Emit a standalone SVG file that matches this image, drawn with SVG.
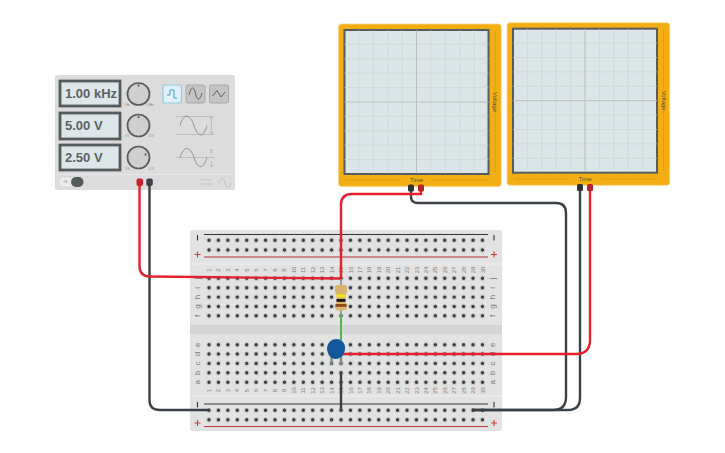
<svg xmlns="http://www.w3.org/2000/svg" width="725" height="453" viewBox="0 0 725 453">
<style>
text{font-family:"Liberation Sans",Arial,sans-serif}
.lcd{fill:#dde7ea;stroke:#555a5c;stroke-width:2.8}
.lcdt{font-size:13px;font-weight:bold;fill:#5c6163}
.knob{fill:#cfcfcf;stroke:#555a5c;stroke-width:1.7}
.btn{fill:#c4c4c4;stroke:#a8a8a8;stroke-width:1}
.wave{fill:none;stroke:#888;stroke-width:.9}
.faint{stroke:#b8b8b8;stroke-width:.8;fill:none}
.tiny{font-size:2.6px;fill:#777}
.holes{stroke:#3a3f43;stroke-width:3.4;stroke-linecap:round;stroke-dasharray:0 9.43;fill:none}
.halo{stroke:#cdcdcd;stroke-width:5.6;stroke-linecap:round;stroke-dasharray:0 9.43;fill:none}
.num{font-size:6px;fill:#7a7a7a;text-anchor:middle}
.let{font-size:8px;fill:#777;text-anchor:middle}
.wr{fill:none;stroke:#e3202c;stroke-width:2.4}
.wk{fill:none;stroke:#3a4045;stroke-width:2.4}
.body{fill:#f3ae14;stroke:#f8d585;stroke-width:.8}
.scr{fill:#dbe5e8;stroke:#555d60;stroke-width:2}
.g1{stroke:#ccd5d6;stroke-width:.7;fill:none}
.g2{stroke:#b7bfbf;stroke-width:1;fill:none}
.tick{stroke:#d9970f;stroke-width:.7;fill:none}
.sl{font-size:6px;fill:#4f4c38;text-anchor:middle}
</style>

<g id="function-generator">
<rect x="55" y="75" width="180" height="115" rx="2" fill="#dcdcdc"/>
<path d="M55 174.500H235" stroke="#e8e8e8" stroke-width=".8"/>
<rect class="lcd" x="60" y="81" width="60" height="25"/>
<rect class="lcd" x="60" y="113" width="60" height="26"/>
<rect class="lcd" x="60" y="145" width="60" height="25"/>
<text class="lcdt" x="65" y="98">1.00 kHz</text>
<text class="lcdt" x="65" y="130">5.00 V</text>
<text class="lcdt" x="65" y="162">2.50 V</text>
<circle class="knob" cx="138.500" cy="94" r="11"/>
<circle class="knob" cx="138.500" cy="125.500" r="11"/>
<circle class="knob" cx="138.500" cy="157.500" r="11"/>
<circle cx="138.500" cy="85.500" r="1" fill="#444"/>
<circle cx="138.500" cy="117" r="1" fill="#444"/>
<circle cx="145.500" cy="154.500" r="1" fill="#444"/>
<rect x="163" y="85" width="18.500" height="18" rx="2" fill="#dff0f8" stroke="#8ccbe8" stroke-width="1.2"/>
<rect class="btn" x="186" y="85" width="19" height="18" rx="2"/>
<rect class="btn" x="209.500" y="85" width="19" height="18" rx="2"/>
<path d="M167 95H170V90H174V98H177" fill="none" stroke="#3a9cc8" stroke-width="1"/>
<path class="wave" style="stroke:#555" d="M189 95C191 86 194 86 195.500 93.500S200 101 202 93"/>
<path class="wave" style="stroke:#555" d="M212.500 96L217 90.500 221 97 225 92"/>
<path class="faint" d="M176 116.500H214M176 134.500H214"/>
<path class="wave" d="M180 125.500C184 112 190 114 194 125.500S203 139 207 125.500"/>
<path class="faint" d="M211.500 117.500V133.500M210 119L211.500 116.500 213 119M210 132L211.500 134.500 213 132"/>
<path class="faint" d="M176 157.500H214"/>
<path class="wave" d="M180 157.500C184 145 190 146 194 157.500S203 170 207 157.500"/>
<path class="faint" d="M211.500 150V154M211.500 161V166M210 151L211.500 149 213 151M210 165L211.500 167 213 165"/>
<text class="tiny" x="127" y="105.500" text-anchor="middle">1 Hz</text>
<text class="tiny" x="150" y="105.500" text-anchor="middle">1 MHz</text>
<text class="tiny" x="127" y="137" text-anchor="middle">0 V</text>
<text class="tiny" x="151" y="137" text-anchor="middle">10 V</text>
<text class="tiny" x="127" y="169.500" text-anchor="middle">-5 V</text>
<text class="tiny" x="151" y="169.500" text-anchor="middle">+5 V</text>
<rect x="59" y="177" width="24.500" height="10" rx="5" fill="#ececec" stroke="#cfcfcf" stroke-width=".6"/>
<rect x="71" y="177" width="12.500" height="10" rx="5" fill="#555a5c"/>
<text class="tiny" x="65.500" y="183" text-anchor="middle">ON</text>
<text class="tiny" x="206" y="181" text-anchor="middle" style="fill:#bdbdbd">Function</text>
<text class="tiny" x="206" y="184.500" text-anchor="middle" style="fill:#bdbdbd">Generator</text>
<path d="M219 183C221 177 223 177 225 183S229 189 231 183" fill="none" stroke="#bbb" stroke-width=".8"/>
</g>

<g id="breadboard">
<rect x="190" y="230" width="312" height="201" rx="2" fill="#e2e2e2"/>
<rect x="190" y="325" width="312" height="9" fill="#d4d4d4"/>
<path d="M190 264H502M190 396H502" stroke="#f0f0f0" stroke-width="1"/>
<path d="M204 234.500H488" stroke="#333" stroke-width="1.200"/>
<path d="M204 257H488" stroke="#c76c6e" stroke-width="1.600"/>
<path d="M204 404H488" stroke="#8e8e8e" stroke-width="1.800"/>
<path d="M204 426.500H488" stroke="#c0353a" stroke-width="1.100"/>
<g>
<path class="halo" d="M209 240.300H486"/><path class="halo" d="M209 250H486"/>
<path class="halo" d="M209 278.300H486"/><path class="halo" d="M209 287.800H486"/><path class="halo" d="M209 297.100H486"/><path class="halo" d="M209 306.500H486"/><path class="halo" d="M209 315.800H486"/>
<path class="halo" d="M209 344.700H486"/><path class="halo" d="M209 354H486"/><path class="halo" d="M209 363.400H486"/><path class="halo" d="M209 372.800H486"/><path class="halo" d="M209 382.200H486"/>
<path class="halo" d="M209 410.300H486"/><path class="halo" d="M209 419.700H486"/>
</g>
<g>
<path class="holes" d="M209 240.300H486"/><path class="holes" d="M209 250H486"/>
<path class="holes" d="M209 278.300H486"/><path class="holes" d="M209 287.800H486"/><path class="holes" d="M209 297.100H486"/><path class="holes" d="M209 306.500H486"/><path class="holes" d="M209 315.800H486"/>
<path class="holes" d="M209 344.700H486"/><path class="holes" d="M209 354H486"/><path class="holes" d="M209 363.400H486"/><path class="holes" d="M209 372.800H486"/><path class="holes" d="M209 382.200H486"/>
<path class="holes" d="M209 410.300H486"/><path class="holes" d="M209 419.700H486"/>
</g>
<g>
<path d="M197.500 235V240.500M494 235V240.500M197.500 402V407.500M494 402V407.500" stroke="#333" stroke-width="1.100"/>
<path d="M194.500 254.500H200.500M197.500 251.500V257.500M491 254.500H497M494 251.500V257.500M194.500 423H200.500M197.500 420V426M491 423H497M494 420V426" stroke="#cf3a3e" stroke-width="1.100"/>
</g>
<g id="top-numbers">
<text class="num" transform="translate(211 270) rotate(-90)">1</text><text class="num" transform="translate(220.400 270) rotate(-90)">2</text><text class="num" transform="translate(229.900 270) rotate(-90)">3</text><text class="num" transform="translate(239.300 270) rotate(-90)">4</text><text class="num" transform="translate(248.700 270) rotate(-90)">5</text><text class="num" transform="translate(258.200 270) rotate(-90)">6</text><text class="num" transform="translate(267.600 270) rotate(-90)">7</text><text class="num" transform="translate(277 270) rotate(-90)">8</text><text class="num" transform="translate(286.400 270) rotate(-90)">9</text><text class="num" transform="translate(295.900 270) rotate(-90)">10</text><text class="num" transform="translate(305.300 270) rotate(-90)">11</text><text class="num" transform="translate(314.700 270) rotate(-90)">12</text><text class="num" transform="translate(324.200 270) rotate(-90)">13</text><text class="num" transform="translate(333.600 270) rotate(-90)">14</text><text class="num" transform="translate(343 270) rotate(-90)">15</text><text class="num" transform="translate(352.500 270) rotate(-90)">16</text><text class="num" transform="translate(361.900 270) rotate(-90)">17</text><text class="num" transform="translate(371.300 270) rotate(-90)">18</text><text class="num" transform="translate(380.700 270) rotate(-90)">19</text><text class="num" transform="translate(390.200 270) rotate(-90)">20</text><text class="num" transform="translate(399.600 270) rotate(-90)">21</text><text class="num" transform="translate(409 270) rotate(-90)">22</text><text class="num" transform="translate(418.500 270) rotate(-90)">23</text><text class="num" transform="translate(427.900 270) rotate(-90)">24</text><text class="num" transform="translate(437.300 270) rotate(-90)">25</text><text class="num" transform="translate(446.800 270) rotate(-90)">26</text><text class="num" transform="translate(456.200 270) rotate(-90)">27</text><text class="num" transform="translate(465.600 270) rotate(-90)">28</text><text class="num" transform="translate(475 270) rotate(-90)">29</text><text class="num" transform="translate(484.500 270) rotate(-90)">30</text>
</g>
<g id="bottom-numbers">
<text class="num" transform="translate(211 390.500) rotate(-90)">1</text><text class="num" transform="translate(220.400 390.500) rotate(-90)">2</text><text class="num" transform="translate(229.900 390.500) rotate(-90)">3</text><text class="num" transform="translate(239.300 390.500) rotate(-90)">4</text><text class="num" transform="translate(248.700 390.500) rotate(-90)">5</text><text class="num" transform="translate(258.200 390.500) rotate(-90)">6</text><text class="num" transform="translate(267.600 390.500) rotate(-90)">7</text><text class="num" transform="translate(277 390.500) rotate(-90)">8</text><text class="num" transform="translate(286.400 390.500) rotate(-90)">9</text><text class="num" transform="translate(295.900 390.500) rotate(-90)">10</text><text class="num" transform="translate(305.300 390.500) rotate(-90)">11</text><text class="num" transform="translate(314.700 390.500) rotate(-90)">12</text><text class="num" transform="translate(324.200 390.500) rotate(-90)">13</text><text class="num" transform="translate(333.600 390.500) rotate(-90)">14</text><text class="num" transform="translate(343 390.500) rotate(-90)">15</text><text class="num" transform="translate(352.500 390.500) rotate(-90)">16</text><text class="num" transform="translate(361.900 390.500) rotate(-90)">17</text><text class="num" transform="translate(371.300 390.500) rotate(-90)">18</text><text class="num" transform="translate(380.700 390.500) rotate(-90)">19</text><text class="num" transform="translate(390.200 390.500) rotate(-90)">20</text><text class="num" transform="translate(399.600 390.500) rotate(-90)">21</text><text class="num" transform="translate(409 390.500) rotate(-90)">22</text><text class="num" transform="translate(418.500 390.500) rotate(-90)">23</text><text class="num" transform="translate(427.900 390.500) rotate(-90)">24</text><text class="num" transform="translate(437.300 390.500) rotate(-90)">25</text><text class="num" transform="translate(446.800 390.500) rotate(-90)">26</text><text class="num" transform="translate(456.200 390.500) rotate(-90)">27</text><text class="num" transform="translate(465.600 390.500) rotate(-90)">28</text><text class="num" transform="translate(475 390.500) rotate(-90)">29</text><text class="num" transform="translate(484.500 390.500) rotate(-90)">30</text>
</g>
<g id="letters">
<text class="let" transform="translate(200 278.300) rotate(-90)">j</text><text class="let" transform="translate(200 287.800) rotate(-90)">i</text><text class="let" transform="translate(200 297.100) rotate(-90)">h</text><text class="let" transform="translate(200 306.500) rotate(-90)">g</text><text class="let" transform="translate(200 315.800) rotate(-90)">f</text>
<text class="let" transform="translate(200 344.700) rotate(-90)">e</text><text class="let" transform="translate(200 354) rotate(-90)">d</text><text class="let" transform="translate(200 363.400) rotate(-90)">c</text><text class="let" transform="translate(200 372.800) rotate(-90)">b</text><text class="let" transform="translate(200 382.200) rotate(-90)">a</text>
<text class="let" transform="translate(495 278.300) rotate(-90)">j</text><text class="let" transform="translate(495 287.800) rotate(-90)">i</text><text class="let" transform="translate(495 297.100) rotate(-90)">h</text><text class="let" transform="translate(495 306.500) rotate(-90)">g</text><text class="let" transform="translate(495 315.800) rotate(-90)">f</text>
<text class="let" transform="translate(495 344.700) rotate(-90)">e</text><text class="let" transform="translate(495 354) rotate(-90)">d</text><text class="let" transform="translate(495 363.400) rotate(-90)">c</text><text class="let" transform="translate(495 372.800) rotate(-90)">b</text><text class="let" transform="translate(495 382.200) rotate(-90)">a</text>
</g>
</g>

<g id="oscilloscope-1" transform="translate(-168.500 1.300)">
<rect class="body" x="507" y="22.700" width="162.700" height="162.600" rx="3"/>
<rect class="scr" x="513" y="28.700" width="144" height="144"/>
<path class="g1" d="M527.400 29V172M541.800 29V172M556.200 29V172M570.600 29V172M599.400 29V172M613.800 29V172M628.200 29V172M642.600 29V172M513 43.100H657M513 57.500H657M513 71.900H657M513 86.300H657M513 115.100H657M513 129.500H657M513 143.900H657M513 158.300H657"/>
<path class="g2" d="M585 29V172M513 100.700H657"/>
<path class="tick" d="M514 179H569M601 179H656M663.500 30V90M663.500 111V171"/>
<text class="sl" x="585" y="181">Time</text>
<text class="sl" transform="translate(661.500 100.700) rotate(90)">Voltage</text>
</g>
<g id="oscilloscope-2">
<rect class="body" x="507" y="22.700" width="162.700" height="162.600" rx="3"/>
<rect class="scr" x="513" y="28.700" width="144" height="144"/>
<path class="g1" d="M527.400 29V172M541.800 29V172M556.200 29V172M570.600 29V172M599.400 29V172M613.800 29V172M628.200 29V172M642.600 29V172M513 43.100H657M513 57.500H657M513 71.900H657M513 86.300H657M513 115.100H657M513 129.500H657M513 143.900H657M513 158.300H657"/>
<path class="g2" d="M585 29V172M513 100.700H657"/>
<path class="tick" d="M514 179H569M601 179H656M663.500 30V90M663.500 111V171"/>
<text class="sl" x="585" y="181">Time</text>
<text class="sl" transform="translate(661.500 100.700) rotate(90)">Voltage</text>
</g>

<g id="connectors">
<path class="wk" d="M149.500 182V400Q149.500 410 160 410H209"/>
<path class="wk" d="M411 188V197Q411 203 418 203H556Q566 203 566 213V397Q566 410 553 410H472"/>
<path class="wk" d="M580 187V398Q580 410 568 410H472"/>
<path class="wk" d="M341 372V410"/>
<path class="wr" d="M139.500 182V266Q139.500 276.500 150 276.500L341 278.500"/>
<path class="wr" d="M341 278.500V205Q341 194 352 194H421V188"/>
<path class="wr" d="M590 187V340Q590 354 576 354H342"/>
<path d="M341 316V340" fill="none" stroke="#4fb848" stroke-width="2"/>
</g>

<g id="probes">
<rect x="136.500" y="178.500" width="6.500" height="7.500" rx="2" fill="#c9202a"/>
<rect x="146.300" y="178.500" width="6.500" height="7.500" rx="2" fill="#3a4045"/>
<rect x="408" y="184.500" width="6" height="7" rx="1.500" fill="#2f3336"/>
<rect x="418" y="184.500" width="6" height="7" rx="1.500" fill="#b8242b"/>
<rect x="577" y="184" width="6" height="7" rx="1.500" fill="#2f3336"/>
<rect x="587" y="184" width="6" height="7" rx="1.500" fill="#b8242b"/>
</g>

<g id="resistor">
<path d="M341 279V316" stroke="#8d9696" stroke-width="1.800"/>
<path d="M336 285H346Q347 285 347 289V292L345.500 296V302L347 305V307Q347 310.500 342 310.500H340Q335 310.500 335 307V305L336.500 302V296L335 292V289Q335 285 336 285Z" fill="#d9b46e"/>
<rect x="336.500" y="294.500" width="9" height="2.600" fill="#f7ec12"/>
<rect x="336.500" y="299" width="9" height="2.800" fill="#151515"/>
<rect x="335.500" y="304" width="11" height="2.800" fill="#8a4a1c"/>
</g>

<g id="capacitor">
<path d="M331.500 355V364.500M341 355V364.500" stroke="#7b8c86" stroke-width="2.400"/>
<path d="M336.500 339C342 339 345.500 343.500 345 349C344.500 354.500 341.500 358.500 335.500 359C330 359 327 353 327 348C327.500 343 331 339 336.500 339Z" fill="#14589c"/>
</g>
</svg>
